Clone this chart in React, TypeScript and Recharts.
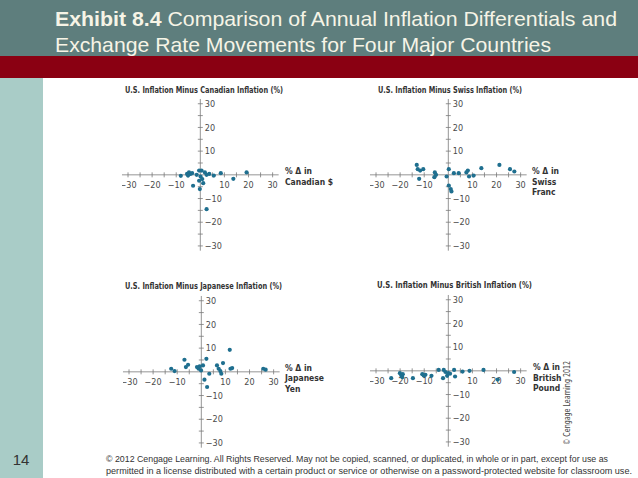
import React from "react";
import { ScatterChart, Scatter, XAxis, YAxis, ReferenceLine } from "recharts";

// tick positions shared by all four panels
const tickValues = [-30, -25, -20, -15, -10, -5, 5, 10, 15, 20, 25, 30];
const labeledTicks = [-30, -20, -10, 10, 20, 30];

// [% change in currency, US inflation minus foreign inflation]
const canadianPoints: [number, number][] = [
  [-8.1, -0.4], [-5.5, 0.4], [-4.7, 1], [-4.1, 0.4], [-3.4, 0.7], [-5.1, -0.3],
  [-3, -4.6], [-1.5, 0], [-0.5, 1.8], [0.5, 1.8], [0.1, -0.7], [-0.5, -2.5],
  [0.8, -1.8], [1.2, -3.5], [-0.2, -6], [1.9, 1], [2.6, 0], [3.7, 0.4],
  [5.6, -0.3], [8.5, 0.7], [13.7, -1.7], [19.2, 1], [2.6, -14.5],
];

const swissPoints: [number, number][] = [
  [-13.1, 4.2], [-12.7, 2.4], [-11.7, 1.8], [-10.4, 2.4], [-12.1, -1.7],
  [-5.6, 1], [-5.1, 0], [-5.8, -1], [-0.7, -0.7], [0.2, 2.4], [0.2, -4.5],
  [1, -6], [1.3, -7], [2.3, 0.7], [4.3, 0.7], [7.5, 1], [8.1, 1.8],
  [8.6, -0.7], [10.5, -0.3], [13.7, 2.8], [21.2, 4.2], [25.6, 2.4], [27.4, 1.4],
];

const japanesePoints: [number, number][] = [
  [-12.5, 1.3], [-11.1, 0.3], [-7, 5.1], [-6.4, 2], [-5.5, 3], [-1.8, 2],
  [-1.1, 1.3], [-0.7, 2.3], [-0.1, 0.6], [0.7, 2.7], [2.1, 5.5], [1.3, -3.3],
  [2.4, -6.4], [3.3, -0.8], [6.5, 2.7], [7.2, 1.3], [7.9, 0.3], [9, 3.7],
  [8.3, -0.8], [11.8, 9.3], [12.1, 1.3], [12.8, 1.6], [25.7, 1.3], [26.7, 0.9],
];

const britishPoints: [number, number][] = [
  [-23.7, -3.1], [-20.1, -1], [-19.5, -2], [-18.9, -1.4], [-19.1, -2.7],
  [-14.7, -3.1], [-10.8, -1.4], [-10.2, -2], [-9.5, -1.7], [-7, -2.1],
  [-4, 0.4], [-1.9, 0.4], [-1.2, -0.5], [-2.2, -3.1], [-0.5, -2.1], [0, -1],
  [0.7, -1.2], [2.4, 0.4], [2.8, -2.4], [5.9, -0.3], [8.8, 0], [14.6, 0.4],
  [20.5, -3.7], [27.3, -0.5],
];

const DOT = "#1f6f8f";
const AXIS = "#7a7a7a";
const TICK_TEXT = "#4a4a4a";
const NARROW = "'Liberation Sans Narrow', 'Arial Narrow', 'DejaVu Sans Condensed', sans-serif";
const SANS = "'Liberation Sans', Arial, sans-serif";

const SX = 2.41;
const SY = 2.37;
const X_DOMAIN: [number, number] = [-32.5, 32.5];
const Y_DOMAIN: [number, number] = [-32, 32];
const M = 14;

const fmt = (v: number) => (v < 0 ? "\u2212" + Math.abs(v) : String(v));

const XTick = (props: any) => {
  const { cx, cy, payload } = props;
  const v = payload.x;
  return (
    <g>
      <line x1={cx} x2={cx} y1={cy - 2.5} y2={cy + 2.5} stroke={AXIS} strokeWidth={0.8} />
      {labeledTicks.includes(v) && (
        <text x={cx} y={cy + 13} textAnchor="middle" fontSize={9} fontFamily={NARROW} fill={TICK_TEXT}>
          {fmt(v)}
        </text>
      )}
    </g>
  );
};

const YTick = (props: any) => {
  const { cx, cy, payload } = props;
  const v = payload.y;
  return (
    <g>
      <line x1={cx - 2.5} x2={cx + 2.5} y1={cy} y2={cy} stroke={AXIS} strokeWidth={0.8} />
      {labeledTicks.includes(v) && (
        <text x={cx + 4.5} y={cy + 3.2} textAnchor="start" fontSize={9} fontFamily={NARROW} fill={TICK_TEXT}>
          {fmt(v)}
        </text>
      )}
    </g>
  );
};

const Dot = (props: any) => <circle cx={props.cx} cy={props.cy} r={2.1} fill={DOT} />;

const xTickData = tickValues.map((v) => ({ x: v, y: 0 }));
const yTickData = tickValues.map((v) => ({ x: 0, y: v }));

interface PanelProps {
  points: [number, number][];
  cx: number;
  cy: number;
}

function Panel({ points, cx, cy }: PanelProps) {
  const w = (X_DOMAIN[1] - X_DOMAIN[0]) * SX;
  const h = (Y_DOMAIN[1] - Y_DOMAIN[0]) * SY;
  const data = points.map(([x, y]) => ({ x, y }));
  return (
    <div style={{ position: "absolute", left: cx - X_DOMAIN[1] * SX - M, top: cy - Y_DOMAIN[1] * SY - M }}>
      <ScatterChart width={w + 2 * M} height={h + 2 * M} margin={{ top: M, right: M, bottom: M, left: M }}>
        <XAxis type="number" dataKey="x" domain={X_DOMAIN} allowDataOverflow hide />
        <YAxis type="number" dataKey="y" domain={Y_DOMAIN} allowDataOverflow hide />
        <ReferenceLine y={0} stroke={AXIS} strokeWidth={0.8} />
        <ReferenceLine x={0} stroke={AXIS} strokeWidth={0.8} />
        <Scatter data={xTickData} shape={XTick} isAnimationActive={false} />
        <Scatter data={yTickData} shape={YTick} isAnimationActive={false} />
        <Scatter data={data} shape={Dot} isAnimationActive={false} />
      </ScatterChart>
    </div>
  );
}

const panels = [
  { key: "ca", title: "U.S. Inflation Minus Canadian Inflation (%)", label: ["% \u0394 in", "Canadian $"], points: canadianPoints, cx: 200.5, cy: 175, tx: 125, tw: 158, ty: 93, lx: 285 },
  { key: "ch", title: "U.S. Inflation Minus Swiss Inflation (%)", label: ["% \u0394 in", "Swiss", "Franc"], points: swissPoints, cx: 448.5, cy: 175, tx: 378, tw: 144, ty: 93, lx: 532 },
  { key: "jp", title: "U.S. Inflation Minus Japanese Inflation (%)", label: ["% \u0394 in", "Japanese", "Yen"], points: japanesePoints, cx: 201, cy: 371.5, tx: 125, tw: 157, ty: 289, lx: 285 },
  { key: "uk", title: "U.S. Inflation Minus British Inflation (%)", label: ["% \u0394 in", "British", "Pound"], points: britishPoints, cx: 448, cy: 371, tx: 377, tw: 155, ty: 288, lx: 533 },
];

export default function App() {
  return (
    <div style={{ position: "absolute", left: 0, top: 0, width: 638, height: 478, background: "#fff", overflow: "hidden" }}>
      <svg width={638} height={478} style={{ position: "absolute", left: 0, top: 0 }}>
        <rect x={0} y={0} width={638} height={56} fill="#5e7e7d" />
        <rect x={0} y={56} width={638} height={22} fill="#8a0012" />
        <rect x={0} y={78} width={43} height={400} fill="#a9ccc7" />
        <text x={55} y={26} fontSize={21} fontFamily={SANS} fill="#f6f4e6" textLength={562} lengthAdjust="spacingAndGlyphs">
          <tspan fontWeight="bold">Exhibit 8.4</tspan> Comparison of Annual Inflation Differentials and
        </text>
        <text x={55} y={52} fontSize={21} fontFamily={SANS} fill="#f6f4e6" textLength={496} lengthAdjust="spacingAndGlyphs">
          Exchange Rate Movements for Four Major Countries
        </text>
        {panels.map((p) => (
          <g key={p.key}>
            <text x={p.tx} y={p.ty} fontSize={9} fontWeight="bold" fontFamily={NARROW} fill="#333" textLength={p.tw} lengthAdjust="spacingAndGlyphs">
              {p.title}
            </text>
            {p.label.map((line, i) => (
              <text key={i} x={p.lx} y={p.cy - 1 + i * 10.5} fontSize={8.5} fontWeight="bold" fontFamily={NARROW} fill="#333">
                {line}
              </text>
            ))}
          </g>
        ))}
        <text transform="translate(570,403) rotate(-90)" textAnchor="middle" fontSize={8} fontFamily={NARROW} fill="#444" textLength={84} lengthAdjust="spacingAndGlyphs">
          © Cengage Learning 2012
        </text>
        <text x={21} y={465} textAnchor="middle" fontSize={15} fontFamily={SANS} fill="#333">
          14
        </text>
        <text x={106} y={462} fontSize={8.6} fontFamily={SANS} fill="#333" textLength={502} lengthAdjust="spacingAndGlyphs">
          © 2012 Cengage Learning. All Rights Reserved. May not be copied, scanned, or duplicated, in whole or in part, except for use as
        </text>
        <text x={106} y={474} fontSize={8.6} fontFamily={SANS} fill="#333" textLength={526} lengthAdjust="spacingAndGlyphs">
          permitted in a license distributed with a certain product or service or otherwise on a password-protected website for classroom use.
        </text>
      </svg>
      {panels.map((p) => (
        <Panel key={p.key} points={p.points} cx={p.cx} cy={p.cy} />
      ))}
    </div>
  );
}
